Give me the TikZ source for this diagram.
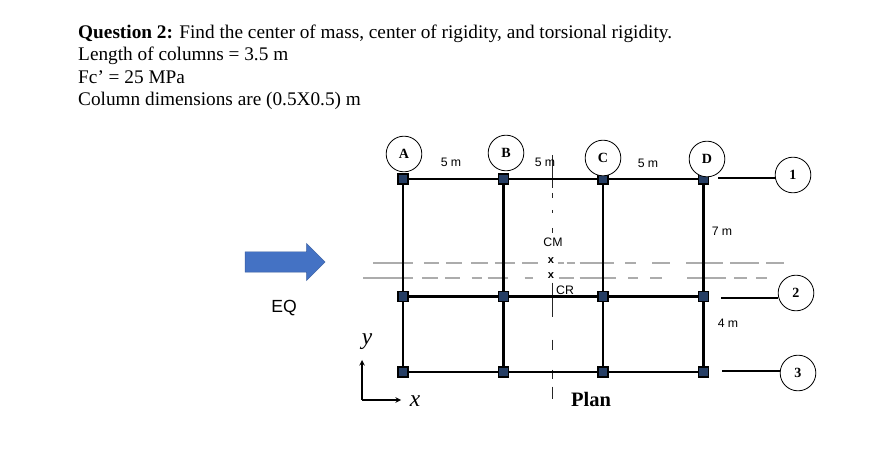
\documentclass[tikz,border=0pt]{standalone}
\usepackage{fontspec}
\setmainfont{Liberation Serif}
\setsansfont{Liberation Sans}
\usepackage{tikz}
\usetikzlibrary{shapes.arrows,arrows.meta,calc,positioning}
\definecolor{colfill}{RGB}{38,62,100}
\definecolor{eqblue}{RGB}{68,114,196}
\tikzstyle{textline} = [anchor=base west,inner sep=0pt,font=\fontsize{16.45}{18}\selectfont]
\tikzstyle{column} = [draw=black,fill=colfill,line width=1pt,minimum size=0.3cm,inner sep=0pt]
\tikzstyle{bubble} = [draw=black,circle,fill=white,line width=0.7pt,minimum size=1.07cm,inner sep=0pt,font=\fontsize{12}{14}\selectfont\bfseries]
\tikzstyle{dim} = [inner sep=0pt,font=\sffamily\fontsize{10.5}{12}\selectfont]
\tikzstyle{frame} = [line width=1.75pt]
\tikzstyle{gridline} = [gray!65,line width=0.9pt]
\tikzstyle{xmark} = [inner sep=0pt,font=\sffamily\bfseries\fontsize{9.5}{11}\selectfont]
\tikzset{>=stealth}
\begin{document}
\begin{tikzpicture}[x=0.03cm,y=-0.03cm]
            \useasboundingbox (0,0) rectangle (885,456);
            % question text
            \node[textline] (q1) at (78,39) {\textbf{Question 2:} Find the center of mass, center of rigidity, and torsional rigidity.};
            \node[textline] (q2) at (78,61) {Length of columns = 3.5 m};
            \node[textline] (q3) at (78,84) {Fc’ = 25 MPa};
            \node[textline] (q4) at (78,106) {Column dimensions are (0.5X0.5) m};
            % dashed lines
            \coordinate (d1l) at (373,263);
            \coordinate (d1r) at (785,263);
            \coordinate (d2l) at (363,278);
            \coordinate (d2r) at (768,278);
            \draw[gridline,dash pattern=on 34pt off 9.4pt on 12.8pt off 6pt on 13.6pt off 7.7pt on 14.5pt off 6pt on 17pt off 6pt on 13.6pt off 17pt on 5pt off 2.6pt on 6.8pt off 4.3pt on 29.8pt off 9.4pt on 9.4pt off 13.6pt on 15.3pt off 13.6pt on 31.5pt off 6pt on 24.7pt off 6pt on 15.3pt off 100pt] (d1l) -- (d1r);
            \draw[gridline,dash pattern=on 42.5pt off 7.7pt on 13.6pt off 6pt on 12.8pt off 10.2pt on 8.5pt off 5.1pt on 17pt off 14.5pt on 6.8pt off 23pt on 12pt off 5.1pt on 31.5pt off 10.2pt on 8.5pt off 10.2pt on 10.2pt off 21.3pt on 33.2pt off 6.8pt on 11pt off 7.7pt on 9.4pt off 100pt] (d2l) -- (d2r);
            % center line
            \coordinate (ctop) at (552,155);
            \coordinate (cbot) at (552,400);
            \draw[black!85,line width=0.6pt,dash pattern=on 28pt off 4.3pt on 4.3pt off 10.2pt on 2.6pt off 12.8pt on 4.3pt off 42.5pt on 29pt off 19.6pt on 8.5pt off 17pt on 8.5pt off 6pt on 11pt off 100pt] (ctop) -- (cbot);
            % columns
            \node[column] (a1) at (403,179) {};
            \node[column] (b1) at (503.5,179) {};
            \node[column] (c1) at (603,179) {};
            \node[column] (d1) at (703.5,179) {};
            \node[column] (a2) at (403,296.5) {};
            \node[column] (b2) at (503.5,296.5) {};
            \node[column] (c2) at (603,296.5) {};
            \node[column] (d2) at (703.5,296.5) {};
            \node[column] (a3) at (403,372) {};
            \node[column] (b3) at (503.5,372) {};
            \node[column] (c3) at (603,372) {};
            \node[column] (d3) at (703.5,372) {};
            % frame
            \draw[frame] (a1) -- (b1) -- (c1) -- (d1);
            \draw[frame] (a2) -- (b2) -- (c2) -- (d2);
            \draw[frame] (a3) -- (b3) -- (c3) -- (d3);
            \draw[frame] (a1) -- (a2) -- (a3);
            \draw[frame] (b1) -- (b2) -- (b3);
            \draw[frame] (c1) -- (c2) -- (c3);
            \draw[frame] (d1) -- (d2) -- (d3);
            % grid bubbles
            \node[bubble] (A) at (404,154) {A};
            \node[bubble] (B) at (506,153) {B};
            \node[bubble] (C) at (603,158) {C};
            \node[bubble] (D) at (707,159) {D};
            \node[bubble] (n1) at (793,175) {1};
            \node[bubble] (n2) at (796,293) {2};
            \node[bubble] (n3) at (798,373) {3};
            \coordinate (s1) at (718,178);
            \coordinate (s2) at (721,298);
            \coordinate (s3) at (722,371);
            \draw[frame] (s1) -- (n1.west |- s1);
            \draw[frame] (s2) -- (n2.west |- s2);
            \draw[frame] (s3) -- (n3.west |- s3);
            % dimensions
            \node[dim] (l1) at (451,162) {5 m};
            \node[dim] (l2) at (545,162) {5 m};
            \node[dim] (l3) at (648,163) {5 m};
            \node[dim] (l4) at (722,231) {7 m};
            \node[dim] (l5) at (728,323) {4 m};
            \node[dim] (cm) at (553,242) {CM};
            \node[xmark] (xm) at (551,261) {x};
            \node[xmark] (xr) at (551,276) {x};
            \node[dim] (cr) at (565,290) {CR};
            \node[inner sep=0pt,font=\fontsize{17.5}{20}\selectfont\bfseries] (plan) at (591,399) {Plan};
            % load arrow
            \node[single arrow,draw=eqblue!80!black,fill=eqblue,line width=0.4pt,minimum height=2.4cm,inner xsep=0pt,inner ysep=0.3cm,single arrow head extend=0.25cm,single arrow tip angle=90] (eqarrow) at (280,262) {};
            \node[inner sep=0pt,font=\sffamily\fontsize{15}{17}\selectfont] (eq) at (284,308) {EQ};
            % axes
            \node[inner sep=0pt,font=\fontsize{20}{22}\selectfont\itshape] (yl) at (367,342) {y};
            \node[inner sep=0pt,font=\fontsize{20}{22}\selectfont\itshape] (xl) at (415,401) {x};
            \coordinate (o) at (362,400);
            \coordinate (ya) at (362,360);
            \coordinate (xa) at (401,400);
            \draw[->,line width=1.1pt] (o) -- (ya);
            \draw[->,line width=1.1pt] (o) -- (xa);
\end{tikzpicture}
\end{document}
